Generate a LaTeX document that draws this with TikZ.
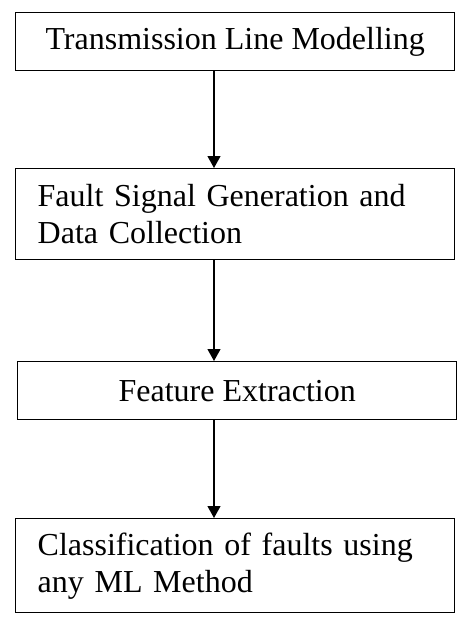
\documentclass[tikz,border=0pt]{standalone}
\usepackage{fontspec}
\setmainfont{Liberation Serif}
\usetikzlibrary{arrows.meta}
\begin{document}
\begin{tikzpicture}[x=1pt,y=-1pt,
  boxstyle/.style={draw=black, line width=1.4pt, inner sep=0pt, minimum width=439pt, font=\fontsize{32}{37}\selectfont},
  leftbox/.style={boxstyle, text width=395pt, align=left, inner xsep=22pt},
  conn/.style={line width=1.2pt, -{Triangle[length=12pt,width=13pt]}}]
\useasboundingbox (0,0) rectangle (474,618);
\node[boxstyle, minimum height=58pt, anchor=north west] (b1) at (15,12) {Transmission Line Modelling};
\node[leftbox, minimum height=91pt, anchor=north west] (b2) at (15,168) {Fault Signal Generation and\\Data Collection};
\node[boxstyle, minimum height=58pt, anchor=north west] (b3) at (17,361) {Feature Extraction};
\node[leftbox, minimum height=94pt, anchor=north west] (b4) at (15,518) {Classification of faults using\\any ML Method};
\draw[conn] (b1.south -| 214,0) -- (b2.north -| 214,0);
\draw[conn] (b2.south -| 214,0) -- (b3.north -| 214,0);
\draw[conn] (b3.south -| 214,0) -- (b4.north -| 214,0);
\end{tikzpicture}
\end{document}
